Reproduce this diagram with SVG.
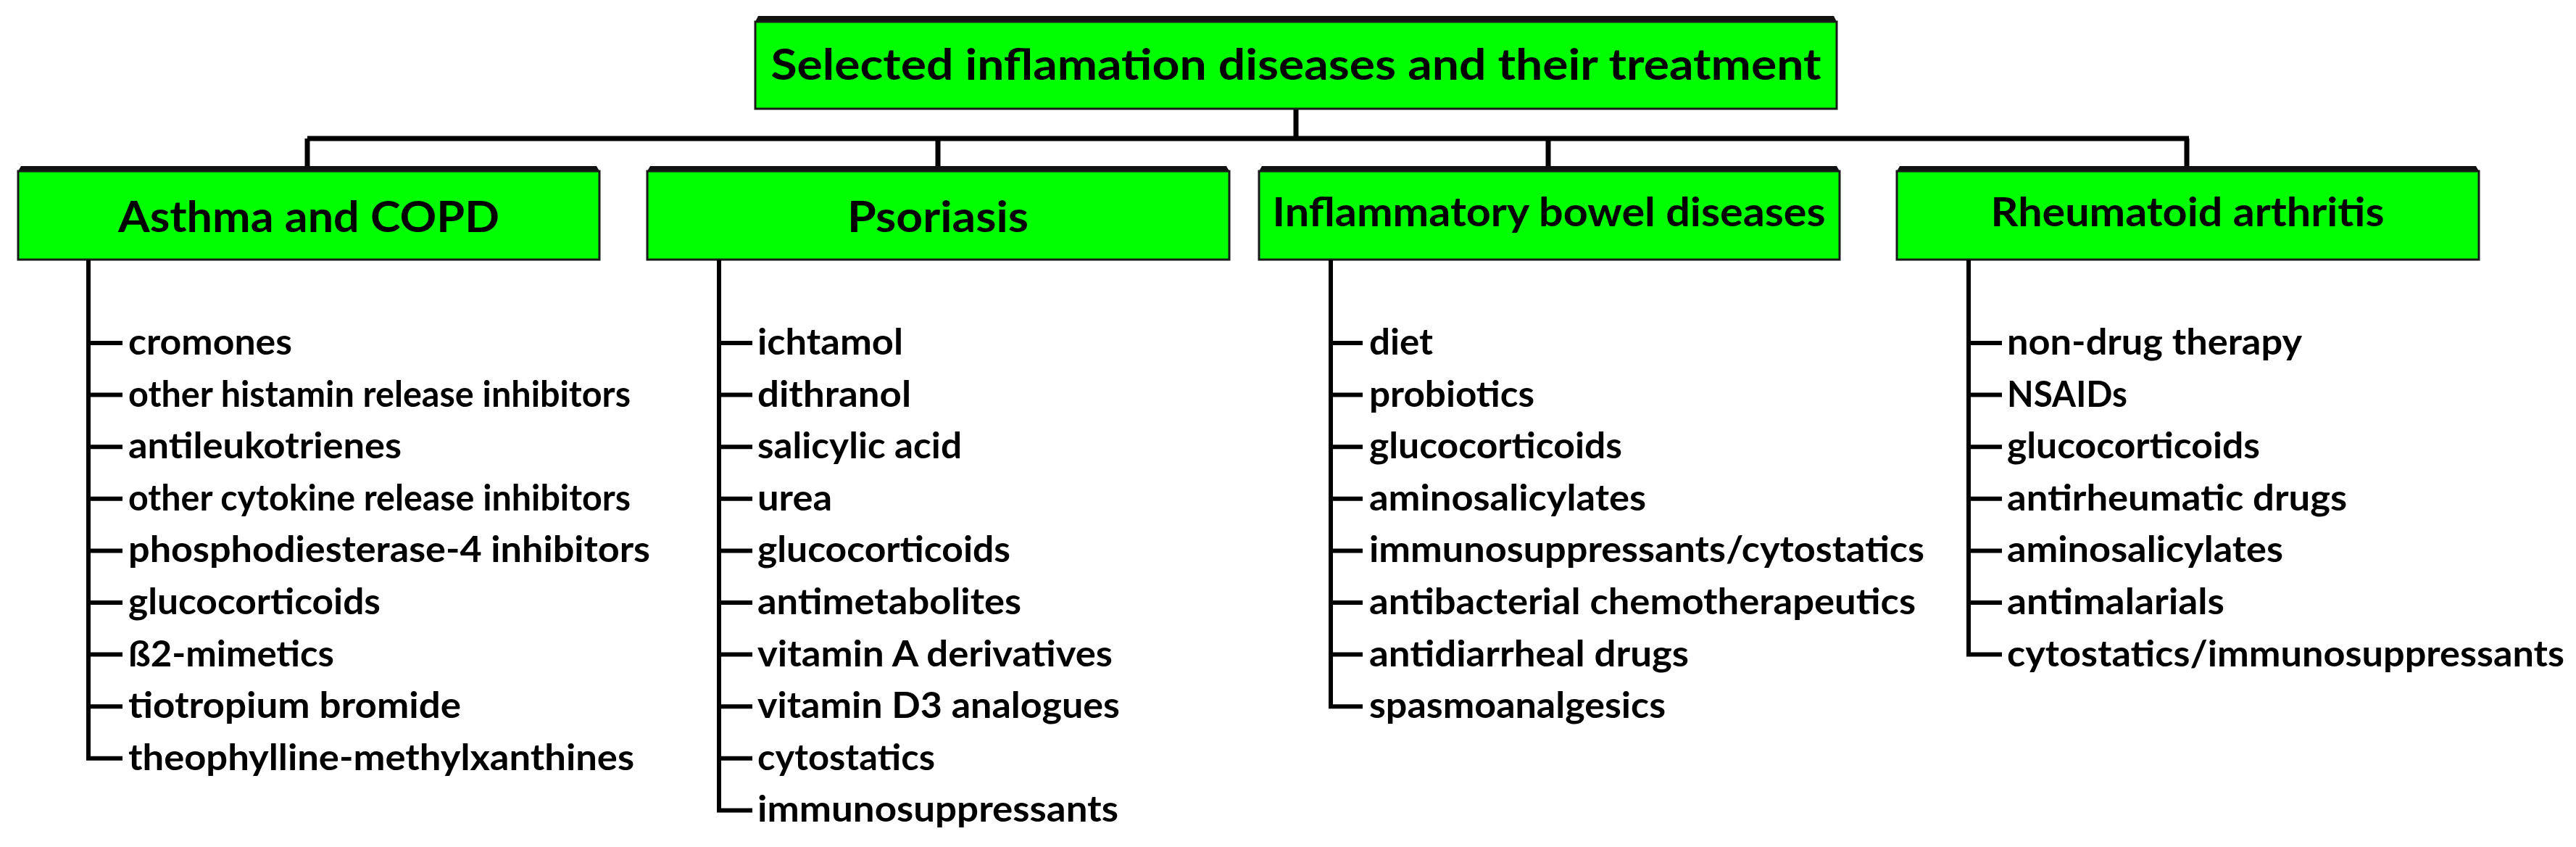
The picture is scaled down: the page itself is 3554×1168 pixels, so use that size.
<svg xmlns="http://www.w3.org/2000/svg" width="3554" height="1168" viewBox="0 0 3554 1168">
<style>
.box{fill:#00ff00;stroke:#1a1a1a;stroke-width:3}
.bevel{fill:#111}
.head{font-family:Lato,"Liberation Sans",sans-serif;font-weight:bold;fill:#000;text-anchor:middle}
.item{font-family:Lato,"Liberation Sans",sans-serif;font-weight:bold;font-size:50px;fill:#000}
.conn{stroke:#000;stroke-width:7;fill:none}
.tree{stroke:#000;stroke-width:6;fill:none}
</style>
<rect width="3554" height="1168" fill="#fff"/>
<g id="connectors">
<path class="conn" d="M1788 150 V191 M424 191 H3020 M424 191 V229 M1294 191 V229 M2136 191 V229 M3017 191 V229"/>
</g>
<g id="root">
<path class="bevel" d="M1046 22 H2530 L2534 30 H1042 Z"/>
<rect class="box" x="1042" y="30" width="1492" height="120"/>
<text class="head" x="1788" y="110" font-size="60" textLength="1449" lengthAdjust="spacingAndGlyphs">Selected inflamation diseases and their treatment</text>
</g>
<g id="asthma">
<path class="bevel" d="M29 229 H823 L827 236 H25 Z"/>
<rect class="box" x="25" y="236" width="802" height="122"/>
<text class="head" x="426" y="320" font-size="60" textLength="526" lengthAdjust="spacingAndGlyphs">Asthma and COPD</text>
<path class="tree" d="M122 358 V1045.8 H169 M122 473 H169 M122 544.6 H169 M122 616.2 H169 M122 687.8 H169 M122 759.4 H169 M122 831 H169 M122 902.6 H169 M122 974.2 H169"/>
<text class="item" x="177" y="489" textLength="226" lengthAdjust="spacingAndGlyphs">cromones</text>
<text class="item" x="177" y="560.6" textLength="693" lengthAdjust="spacingAndGlyphs">other histamin release inhibitors</text>
<text class="item" x="177" y="632.2" textLength="377" lengthAdjust="spacingAndGlyphs">antileukotrienes</text>
<text class="item" x="177" y="703.8" textLength="693" lengthAdjust="spacingAndGlyphs">other cytokine release inhibitors</text>
<text class="item" x="177" y="775.4" textLength="720" lengthAdjust="spacingAndGlyphs">phosphodiesterase-4 inhibitors</text>
<text class="item" x="177" y="847" textLength="348" lengthAdjust="spacingAndGlyphs">glucocorticoids</text>
<text class="item" x="177" y="918.6" textLength="284" lengthAdjust="spacingAndGlyphs">ß2-mimetics</text>
<text class="item" x="177" y="990.2" textLength="459" lengthAdjust="spacingAndGlyphs">tiotropium bromide</text>
<text class="item" x="177" y="1061.8" textLength="698" lengthAdjust="spacingAndGlyphs">theophylline-methylxanthines</text>
</g>
<g id="psoriasis">
<path class="bevel" d="M897 229 H1692 L1696 236 H893 Z"/>
<rect class="box" x="893" y="236" width="803" height="122"/>
<text class="head" x="1294" y="320" font-size="60" textLength="250" lengthAdjust="spacingAndGlyphs">Psoriasis</text>
<path class="tree" d="M992 358 V1117.4 H1038 M992 473 H1038 M992 544.6 H1038 M992 616.2 H1038 M992 687.8 H1038 M992 759.4 H1038 M992 831 H1038 M992 902.6 H1038 M992 974.2 H1038 M992 1045.8 H1038"/>
<text class="item" x="1045" y="489" textLength="201" lengthAdjust="spacingAndGlyphs">ichtamol</text>
<text class="item" x="1045" y="560.6" textLength="212" lengthAdjust="spacingAndGlyphs">dithranol</text>
<text class="item" x="1045" y="632.2" textLength="282" lengthAdjust="spacingAndGlyphs">salicylic acid</text>
<text class="item" x="1045" y="703.8" textLength="103" lengthAdjust="spacingAndGlyphs">urea</text>
<text class="item" x="1045" y="775.4" textLength="349" lengthAdjust="spacingAndGlyphs">glucocorticoids</text>
<text class="item" x="1045" y="847" textLength="364" lengthAdjust="spacingAndGlyphs">antimetabolites</text>
<text class="item" x="1045" y="918.6" textLength="490" lengthAdjust="spacingAndGlyphs">vitamin A derivatives</text>
<text class="item" x="1045" y="990.2" textLength="500" lengthAdjust="spacingAndGlyphs">vitamin D3 analogues</text>
<text class="item" x="1045" y="1061.8" textLength="245" lengthAdjust="spacingAndGlyphs">cytostatics</text>
<text class="item" x="1045" y="1133.4" textLength="498" lengthAdjust="spacingAndGlyphs">immunosuppressants</text>
</g>
<g id="ibd">
<path class="bevel" d="M1741 229 H2534 L2538 236 H1737 Z"/>
<rect class="box" x="1737" y="236" width="801" height="122"/>
<text class="head" x="2137" y="312" font-size="56" textLength="763" lengthAdjust="spacingAndGlyphs">Inflammatory bowel diseases</text>
<path class="tree" d="M1836 358 V974.2 H1880 M1836 473 H1880 M1836 544.6 H1880 M1836 616.2 H1880 M1836 687.8 H1880 M1836 759.4 H1880 M1836 831 H1880 M1836 902.6 H1880"/>
<text class="item" x="1889" y="489" textLength="88" lengthAdjust="spacingAndGlyphs">diet</text>
<text class="item" x="1889" y="560.6" textLength="228" lengthAdjust="spacingAndGlyphs">probiotics</text>
<text class="item" x="1889" y="632.2" textLength="349" lengthAdjust="spacingAndGlyphs">glucocorticoids</text>
<text class="item" x="1889" y="703.8" textLength="382" lengthAdjust="spacingAndGlyphs">aminosalicylates</text>
<text class="item" x="1889" y="775.4" textLength="766" lengthAdjust="spacingAndGlyphs">immunosuppressants/cytostatics</text>
<text class="item" x="1889" y="847" textLength="754" lengthAdjust="spacingAndGlyphs">antibacterial chemotherapeutics</text>
<text class="item" x="1889" y="918.6" textLength="441" lengthAdjust="spacingAndGlyphs">antidiarrheal drugs</text>
<text class="item" x="1889" y="990.2" textLength="409" lengthAdjust="spacingAndGlyphs">spasmoanalgesics</text>
</g>
<g id="ra">
<path class="bevel" d="M2621 229 H3416 L3420 236 H2617 Z"/>
<rect class="box" x="2617" y="236" width="803" height="122"/>
<text class="head" x="3018" y="312" font-size="56" textLength="543" lengthAdjust="spacingAndGlyphs">Rheumatoid arthritis</text>
<path class="tree" d="M2716 358 V902.6 H2762 M2716 473 H2762 M2716 544.6 H2762 M2716 616.2 H2762 M2716 687.8 H2762 M2716 759.4 H2762 M2716 831 H2762"/>
<text class="item" x="2769" y="489" textLength="407" lengthAdjust="spacingAndGlyphs">non-drug therapy</text>
<text class="item" x="2769" y="560.6" textLength="166" lengthAdjust="spacingAndGlyphs">NSAIDs</text>
<text class="item" x="2769" y="632.2" textLength="349" lengthAdjust="spacingAndGlyphs">glucocorticoids</text>
<text class="item" x="2769" y="703.8" textLength="469" lengthAdjust="spacingAndGlyphs">antirheumatic drugs</text>
<text class="item" x="2769" y="775.4" textLength="381" lengthAdjust="spacingAndGlyphs">aminosalicylates</text>
<text class="item" x="2769" y="847" textLength="300" lengthAdjust="spacingAndGlyphs">antimalarials</text>
<text class="item" x="2769" y="918.6" textLength="769" lengthAdjust="spacingAndGlyphs">cytostatics/immunosuppressants</text>
</g>
</svg>
